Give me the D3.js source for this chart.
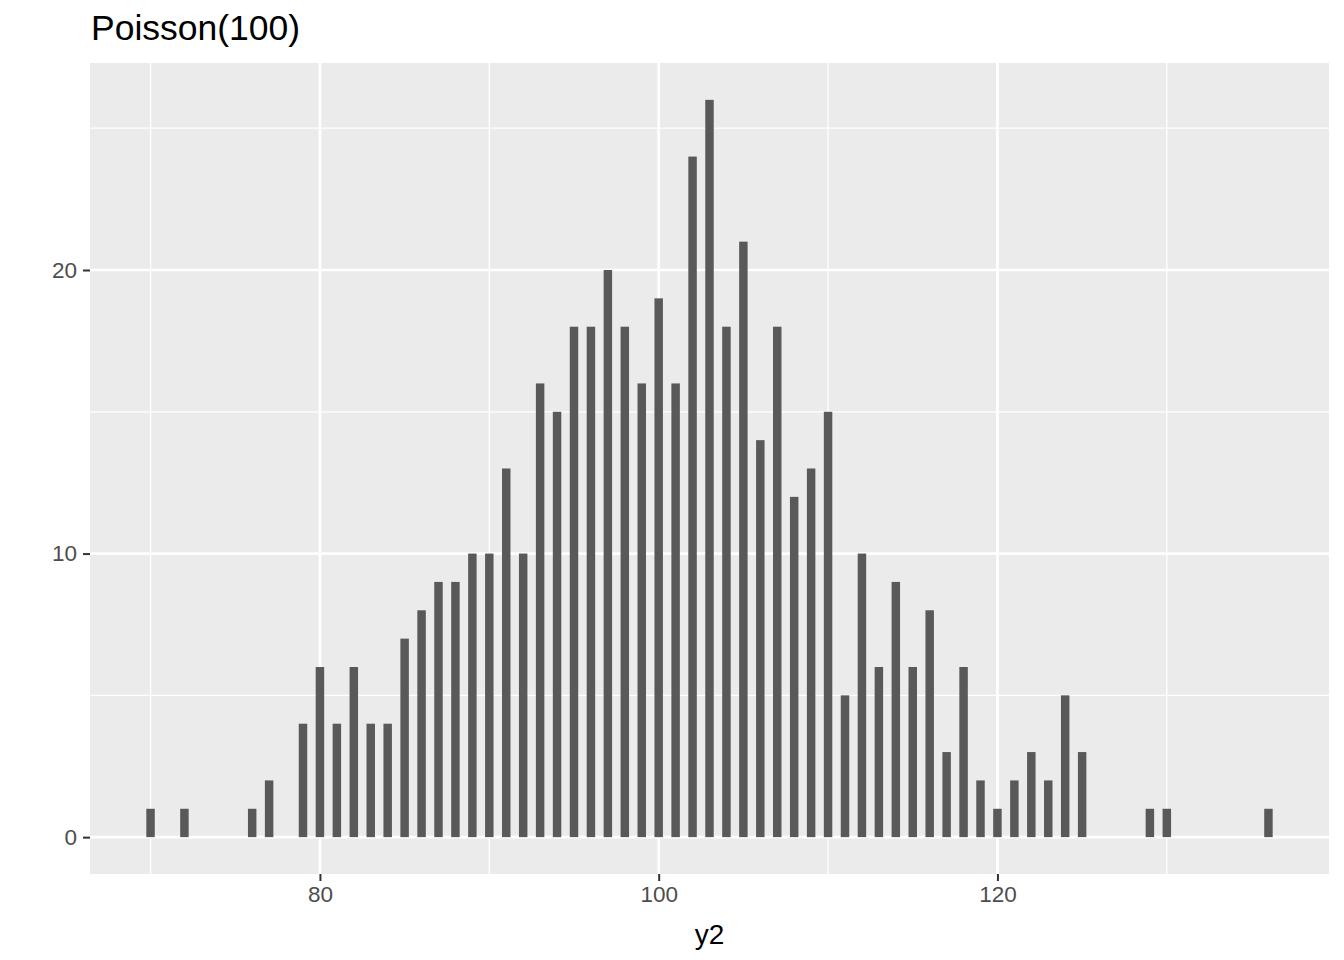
<!DOCTYPE html>
<html>
<head>
<meta charset="utf-8">
<script src="https://cdn.jsdelivr.net/npm/d3@7"></script>
<style>
  body { margin: 0; background: #fff; }
  text { font-family: "Liberation Sans", Arial, sans-serif; }
</style>
</head>
<body>
<div id="chart"></div>
<script>
// counts of each drawn value
const values = [70, 72, 76, 77, 79, 80, 81, 82, 83, 84, 85, 86, 87, 88, 89, 90,
  91, 92, 93, 94, 95, 96, 97, 98, 99, 100, 101, 102, 103, 104, 105, 106, 107,
  108, 109, 110, 111, 112, 113, 114, 115, 116, 117, 118, 119, 120, 121, 122,
  123, 124, 125, 129, 130, 136]
const counts = [1, 1, 1, 2, 4, 6, 4, 6, 4, 4, 7, 8, 9, 9, 10, 10,
  13, 10, 16, 15, 18, 18, 20, 18, 16, 19, 16, 24, 26, 18, 21, 14, 18,
  12, 13, 15, 5, 10, 6, 9, 6, 8, 3, 6, 2, 1, 2, 3,
  2, 5, 3, 1, 1, 1]
const xTicks = [80, 100, 120]
const xMinor = [70, 90, 110, 130]
const yTicks = [0, 10, 20]
const yMinor = [5, 15, 25]
const title = 'Poisson(100)'
const xTitle = 'y2'

const width = 1344, height = 960
const margin = {top: 63, right: 15, bottom: 86, left: 90}
const barWidth = 0.5

const data = values.map((v, i) => ({x: v, n: counts[i]}))

// ggplot style 5% expansion around the bars
const xLo = d3.min(values) - barWidth / 2, xHi = d3.max(values) + barWidth / 2
const xPad = (xHi - xLo) * 0.05
const yMax = d3.max(counts)

const x = d3.scaleLinear()
  .domain([xLo - xPad, xHi + xPad])
  .range([margin.left, width - margin.right])
const y = d3.scaleLinear()
  .domain([-yMax * 0.05, yMax * 1.05])
  .range([height - margin.bottom, margin.top])

const svg = d3.select('#chart').append('svg')
  .attr('width', width)
  .attr('height', height)

svg.append('rect')
  .attr('x', margin.left).attr('y', margin.top)
  .attr('width', width - margin.left - margin.right)
  .attr('height', height - margin.top - margin.bottom)
  .attr('fill', '#ebebeb')

const grid = svg.append('g').attr('class', 'grid')
grid.selectAll('.xminor').data(xMinor).join('line')
  .attr('x1', d => x(d)).attr('x2', d => x(d))
  .attr('y1', margin.top).attr('y2', height - margin.bottom)
  .attr('stroke', '#fff').attr('stroke-width', 1.3)
grid.selectAll('.yminor').data(yMinor).join('line')
  .attr('y1', d => y(d)).attr('y2', d => y(d))
  .attr('x1', margin.left).attr('x2', width - margin.right)
  .attr('stroke', '#fff').attr('stroke-width', 1.3)
grid.selectAll('.xmajor').data(xTicks).join('line')
  .attr('x1', d => x(d)).attr('x2', d => x(d))
  .attr('y1', margin.top).attr('y2', height - margin.bottom)
  .attr('stroke', '#fff').attr('stroke-width', 2.7)
grid.selectAll('.ymajor').data(yTicks).join('line')
  .attr('y1', d => y(d)).attr('y2', d => y(d))
  .attr('x1', margin.left).attr('x2', width - margin.right)
  .attr('stroke', '#fff').attr('stroke-width', 2.7)

svg.append('g').selectAll('rect').data(data).join('rect')
  .attr('x', d => x(d.x - barWidth / 2))
  .attr('width', d => x(d.x + barWidth / 2) - x(d.x - barWidth / 2))
  .attr('y', d => y(d.n))
  .attr('height', d => y(0) - y(d.n))
  .attr('fill', '#595959')

const xAxis = svg.append('g')
  .attr('transform', `translate(0,${height - margin.bottom})`)
  .call(d3.axisBottom(x).tickValues(xTicks).tickSize(7).tickPadding(5))
const yAxis = svg.append('g')
  .attr('transform', `translate(${margin.left},0)`)
  .call(d3.axisLeft(y).tickValues(yTicks).tickSize(7).tickPadding(6))

for (const ax of [xAxis, yAxis]) {
  ax.select('.domain').remove()
  ax.selectAll('line').attr('stroke', '#333333').attr('stroke-width', 2)
  ax.selectAll('text').attr('fill', '#4d4d4d').style('font-size', '22.5px')
}

svg.append('text')
  .attr('x', (margin.left + width - margin.right) / 2)
  .attr('y', 944)
  .attr('text-anchor', 'middle')
  .style('font-size', '28px')
  .attr('fill', '#000')
  .text(xTitle)

svg.append('text')
  .attr('x', 91)
  .attr('y', 40)
  .style('font-size', '35.5px')
  .attr('fill', '#000')
  .text(title)
</script>
</body>
</html>
